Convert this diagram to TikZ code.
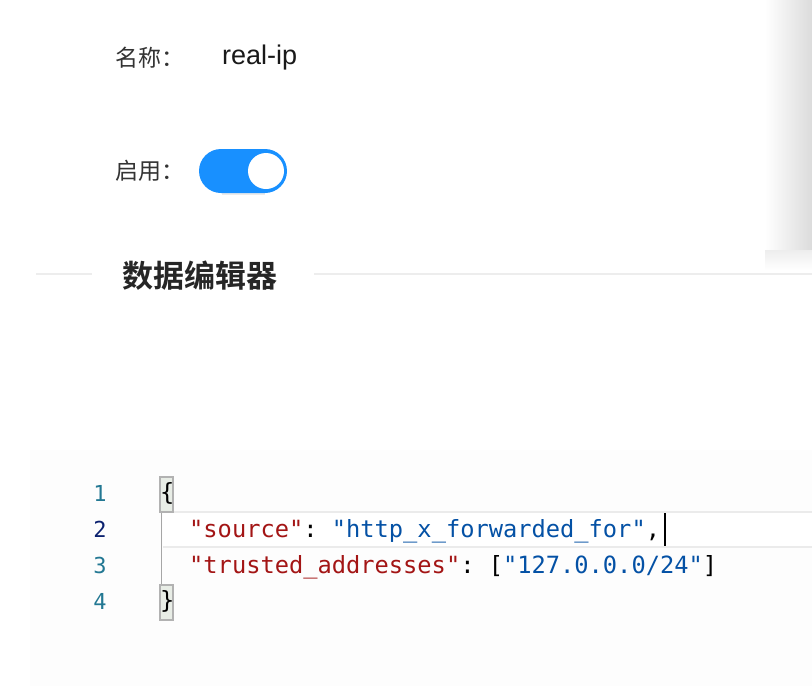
\documentclass[tikz,border=0pt]{standalone}
\usepackage{fontspec}
\setmainfont{Liberation Sans}
\newfontfamily\cjk{Noto Sans CJK SC}
\newfontfamily\cjkb{Noto Sans CJK SC}[BoldFont={* Bold}]
\newfontfamily\codefont{DejaVu Sans Mono}
\definecolor{keyc}{HTML}{A31515}
\definecolor{strc}{HTML}{0451A5}
\definecolor{lnc}{HTML}{237893}
\definecolor{lncur}{HTML}{0B216F}
\definecolor{togc}{HTML}{1890FF}
\definecolor{brk}{HTML}{E8EDE6}
\begin{document}
\begin{tikzpicture}[x=1pt,y=-1pt,
  lab/.style={inner sep=0,anchor=west,font=\cjk\fontsize{23}{23}\selectfont,text=black!80},
  code/.style={inner sep=0,anchor=base west,font=\codefont\fontsize{23.7}{24}\selectfont},
  lnum/.style={inner sep=0,anchor=base,font=\codefont\fontsize{22}{22}\selectfont,text=lnc}]
\useasboundingbox (0,0) rectangle (812,686);
\fill[white] (0,0) rectangle (812,686);
% right shadow
\shade[left color=white,right color=black!14] (765,0) rectangle (812,250);
\shade[top color=black!7,bottom color=white] (765,250) rectangle (812,270);
% name
\node[lab] (n1) at (115,58) {名称：};
\node[inner sep=0,anchor=west,font=\fontsize{27}{27}\selectfont,text=black!90] (n2) at (222,58) {real-ip};
% enable
\node[lab] (e1) at (115,171) {启用：};
\fill[black!8] (222,150.5) rectangle (265,194.5);
\fill[togc,rounded corners=22] (199,149) rectangle (287,193);
\node[circle,fill=white,minimum size=36,inner sep=0] (knob) at (266,171) {};
% section
\draw[black!7,line width=1.5] (36,274) -- (92,274);
\draw[black!7,line width=1.5] (314,274) -- (812,274);
\node[inner sep=0,anchor=west,font=\cjkb\bfseries\fontsize{31}{31}\selectfont,text=black!85] (sec) at (122,276) {数据编辑器};
% editor
\fill[black!0.6] (30,450) rectangle (812,686);
\fill[white] (163,512) rectangle (812,547);
\draw[black!8,line width=1.5] (163,512) -- (812,512) (163,547) -- (812,547);
\draw[black!35,line width=1] (161,511) -- (161,585);
\draw[black!30,fill=brk,line width=1.2] (160,477) rectangle (173,512);
\draw[black!30,fill=brk,line width=1.2] (160,585) rectangle (173,620);
\node[lnum] (l1) at (100,501) {1};
\node[lnum,text=lncur] (l2) at (100,537) {2};
\node[lnum] (l3) at (100,573) {3};
\node[lnum] (l4) at (100,609) {4};
\node[code] (c1) at (160,500) {\{};
\node[code] (c2) at (189,537) {\textcolor{keyc}{"source"}:\ \textcolor{strc}{"http\_x\_forwarded\_for"},};
\node[code] (c3) at (189,573) {\textcolor{keyc}{"trusted\_addresses"}:\ [\textcolor{strc}{"127.0.0.0/24"}]};
\node[code] (c4) at (160,608) {\}};
\draw[black,line width=2.5] (665,513) -- (665,546);
\end{tikzpicture}
\end{document}
